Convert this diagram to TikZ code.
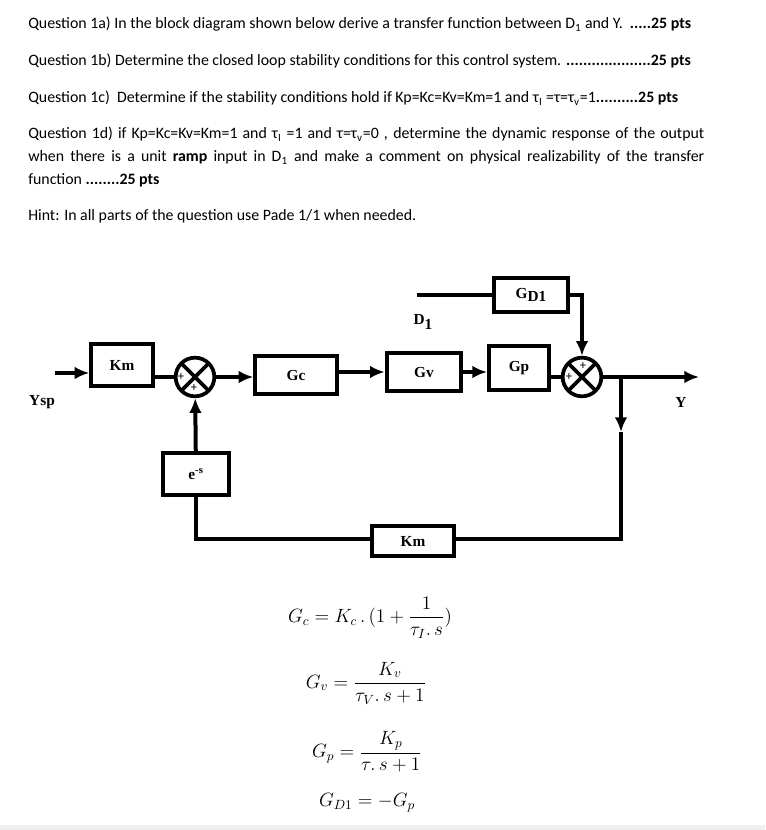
\documentclass[tikz,border=0pt]{standalone}
\usepackage{amsmath}
\usepackage{fontspec}
\setmainfont{Carlito}
\newfontfamily\blockfont{Liberation Serif}
\usetikzlibrary{arrows.meta}

\begin{document}
\begin{tikzpicture}[x=0.75pt,y=-0.75pt,
  block/.style={draw,rectangle,line width=3pt,inner sep=0pt,font=\blockfont\bfseries\fontsize{11.5}{13}\selectfont},
  sumjn/.style={draw,circle,line width=2.8pt,minimum size=29pt,inner sep=0pt,
    path picture={\draw[line width=2.8pt] (path picture bounding box.north west) -- (path picture bounding box.south east)
      (path picture bounding box.north east) -- (path picture bounding box.south west);}},
  sgn/.style={inner sep=0pt,font=\fontsize{9.5}{9.5}\selectfont},
  lbl/.style={inner sep=0pt,font=\blockfont\bfseries\fontsize{11.5}{13}\selectfont},
  qtext/.style={anchor=base west,inner sep=0pt,font=\fontsize{11.9}{14}\selectfont},
  eq/.style={inner sep=0pt,font=\fontsize{14}{17}\selectfont},
  conn/.style={line width=3pt},
  arr/.style={line width=3pt,-{Latex[length=11pt,width=9.5pt]}}]

\useasboundingbox (0,0) rectangle (765,830);
\fill[black!6] (0,825) rectangle (765,830);

% questions
\node[qtext] (q1a) at (28,29) {Question 1a) In the block diagram shown below derive a transfer function between D\textsubscript{1} and Y.\ \ \textbf{.....25 pts}};
\node[qtext] (q1b) at (28,66) {Question 1b) Determine the closed loop stability conditions for this control system. \textbf{....................25 pts}};
\node[qtext] (q1c) at (28,103) {Question 1c)\ \ Determine if the stability conditions hold if Kp=Kc=Kv=Km=1 and τ\textsubscript{I} =τ=τ\textsubscript{v}=1\textbf{..........25 pts}};
\node[qtext] (q1d1) at (28,139) {\makebox[507pt][s]{Question 1d) if Kp=Kc=Kv=Km=1 and τ\textsubscript{I} =1 and τ=τ\textsubscript{v}=0 , determine the dynamic response of the output}};
\node[qtext] (q1d2) at (28,162) {\makebox[507pt][s]{when there is a unit \textbf{ramp} input in D\textsubscript{1} and make a comment on physical realizability of the transfer}};
\node[qtext] (q1d3) at (28,185) {function \textbf{........25 pts}};
\node[qtext] (hint) at (28,221) {Hint: In all parts of the question use Pade 1/1 when needed.};

% blocks
\node[block,minimum width=46pt,minimum height=31pt] (km1) at (122,365) {Km};
\node[sumjn] (sum1) at (195,377) {};
\node[block,minimum width=61pt,minimum height=28pt] (gc) at (296,375) {Gc};
\node[block,minimum width=56pt,minimum height=29pt] (gv) at (424,372) {Gv};
\node[block,minimum width=45pt,minimum height=33pt] (gp) at (519,368) {Gp};
\node[sumjn] (sum2) at (582,377) {};
\node[block,minimum width=56pt,minimum height=26pt] (gd1) at (531,295) {G\raisebox{-0.5ex}{D1}};
\node[block,minimum width=49pt,minimum height=31pt] (es) at (196,474) {e\textsuperscript{-s}};
\node[block,minimum width=62pt,minimum height=23pt] (km2) at (413,541) {Km};

\node[sgn] (s1a) at (181,377) {+};
\node[sgn] (s1b) at (194,388) {+};
\node[sgn] (s2a) at (569,377) {+};
\node[sgn] (s2b) at (583,366) {+};

% labels
\node[lbl] (ysp) at (42,402) {Ysp};
\node[lbl] (ylbl) at (681,402) {Y};
\node[lbl] (d1lbl) at (423,322) {D\raisebox{-0.6ex}{1}};

% connectors
\coordinate (in) at (55,373);
\coordinate (yout) at (699,377);
\coordinate (br) at (621,377);
\coordinate (dn) at (621,432);
\coordinate (c1) at (621,539);
\coordinate (d1) at (417,295);

\draw[arr] (in) -- (km1.west |- in);
\draw[conn] (km1.east |- sum1) -- (sum1);
\draw[arr] (sum1) -- (gc.west |- sum1);
\draw[arr] (gc.east |- gv) -- (gv.west);
\draw[arr] (gv.east) -- (gp.west |- gv.east);
\draw[conn] (gp.east |- sum2) -- (sum2);
\draw[arr] (sum2) -- (yout);
\draw[arr] (br) -- (dn);
\draw[conn] (dn) -- (c1) -- (km2.east |- c1);
\draw[conn] (km2.west |- c1) -| (es.south);
\draw[arr] (es) -- (sum1);
\draw[conn] (d1) -- (gd1.west);
\draw[arr] (gd1.east) -| (sum2.north);

% equations
\node[eq] (eqgc) at (370,618) {$G_c = K_c\,.\,(1+\dfrac{1}{\tau_I.\,s})$};
\node[eq] (eqgv) at (366,683) {$G_v = \dfrac{K_v}{\tau_V.\,s+1}$};
\node[eq] (eqgp) at (367,752) {$G_p = \dfrac{K_p}{\tau.\,s+1}$};
\node[eq] (eqgd) at (367,803) {$G_{D1} = -G_p$};

\end{tikzpicture}
\end{document}
